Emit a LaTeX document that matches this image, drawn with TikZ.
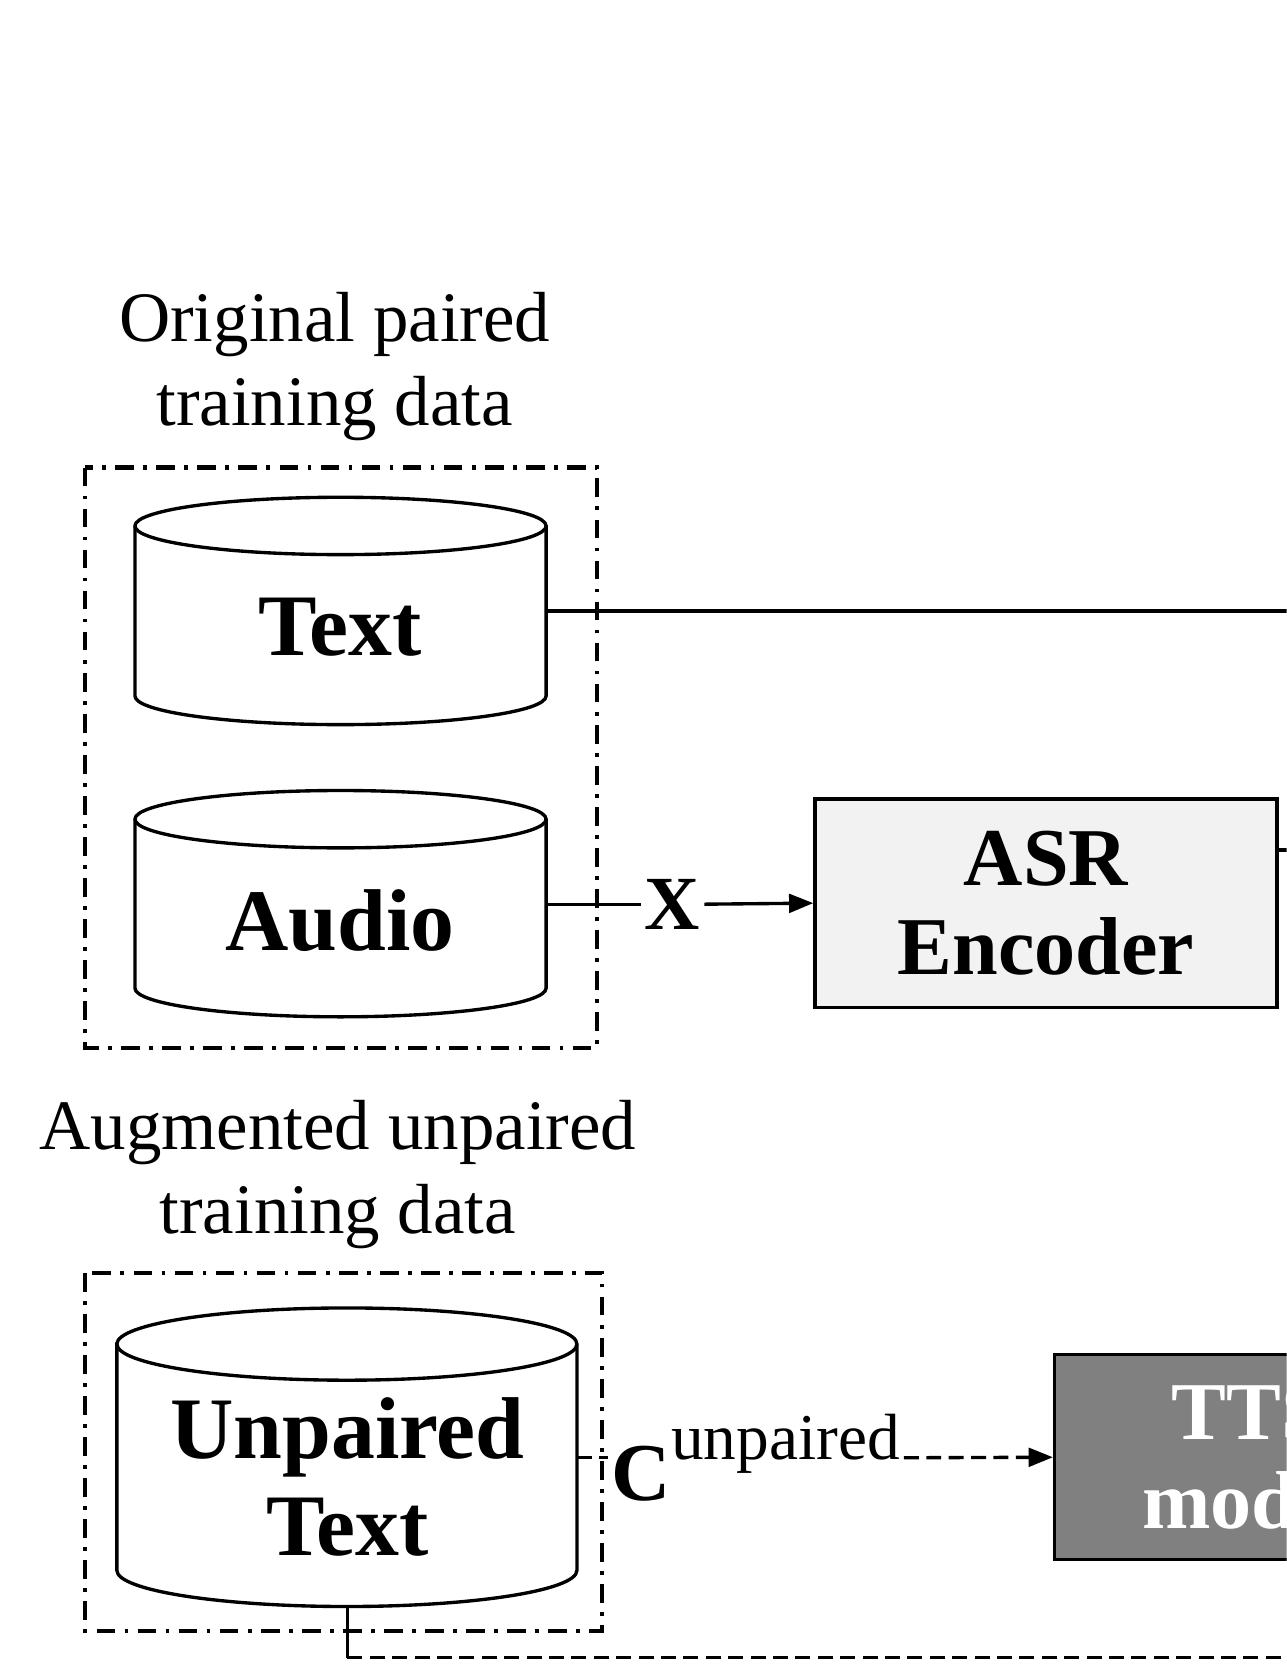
\documentclass[tikz,border=0pt]{standalone}
\usepackage{fontspec}
\setmainfont{Liberation Serif}
\usetikzlibrary{arrows.meta}
\begin{document}
\begin{tikzpicture}[x=0.02cm,y=-0.02cm,
  lbl/.style={font=\fontsize{38}{45}\selectfont,align=center,inner sep=0},
  big/.style={font=\fontsize{47}{50}\selectfont\bfseries,align=center,inner sep=0},
  grp/.style={line width=2.2pt,dash pattern=on 10pt off 5pt on 2pt off 5pt},
  ln/.style={line width=1.8pt},
  arr/.style={ln,-{Triangle[length=13pt,width=10pt]}},
  dsh/.style={ln,dash pattern=on 8pt off 4pt}]
\useasboundingbox (0,0) rectangle (1211,1568);
\clip (0,0) rectangle (1211,1568);
% group labels
\node[lbl] (l1) at (315,345) {Original paired\\training data};
\node[lbl] (l2) at (318,1105) {Augmented unpaired\\training data};
\draw[grp] (80,440) rectangle (562,986);
\draw[grp] (80,1198) rectangle (567,1535);
% cylinders
\draw[ln,fill=white] (127,495) -- (127,655) arc[start angle=180,end angle=0,x radius=193.5,y radius=27] -- (514,495) arc[start angle=0,end angle=-180,x radius=193.5,y radius=27] -- cycle;
\draw[ln] (127,495) arc[start angle=180,end angle=0,x radius=193.5,y radius=27];
\draw[ln,fill=white] (127,771) -- (127,930) arc[start angle=180,end angle=0,x radius=193.5,y radius=27] -- (514,771) arc[start angle=0,end angle=-180,x radius=193.5,y radius=27] -- cycle;
\draw[ln] (127,771) arc[start angle=180,end angle=0,x radius=193.5,y radius=27];
\draw[ln,fill=white] (110,1265) -- (110,1478) arc[start angle=180,end angle=0,x radius=216.5,y radius=34] -- (543,1265) arc[start angle=0,end angle=-180,x radius=216.5,y radius=34] -- cycle;
\draw[ln] (110,1265) arc[start angle=180,end angle=0,x radius=216.5,y radius=34];
\node[big] (text) at (320,590) {Text};
\node[big] (audio) at (320,866) {Audio};
\node[big,font=\fontsize{47}{52}\selectfont\bfseries] (unp) at (327,1390) {Unpaired\\Text};
\coordinate (textR) at (514,575);
\coordinate (audioR) at (514,851);
\coordinate (unpR) at (543,1372);
\coordinate (unpB) at (327,1512);
% boxes
\node[draw,ln,fill=black!5,minimum width=8.7cm,minimum height=3.92cm,inner sep=0,
  font=\fontsize{44}{48}\selectfont\bfseries,align=center] (asr) at (984.5,850) {ASR\\Encoder};
\node[draw,ln,fill=black!50,minimum width=7.34cm,minimum height=3.86cm,inner sep=0,
  text=white,font=\fontsize{44}{48}\selectfont\bfseries,align=center] (tts) at (1176,1371.5) {TTS\\model};
% connectors
\draw[ln] (textR) -- (1215,575);
\draw[ln] (1202,800) -- (1215,800);
\node[inner sep=2pt,font=\fontsize{41}{41}\selectfont\bfseries] (X) at (633,851) {X};
\draw[ln] (audioR) -- (X.west);
\draw[arr] (X.east) -- (asr.west);
\node[inner sep=2pt,anchor=west] (C) at (572,1372) {\fontsize{44}{44}\selectfont\bfseries C\raisebox{0.5em}{\mdseries\fontsize{35}{35}\selectfont unpaired}};
\draw[dsh] (unpR) -- (C.west);
\draw[dsh,-{Triangle[length=13pt,width=10pt]}] (C.east) -- (tts.west);
\draw[ln] (unpB) -- (327,1560);
\draw[dsh] (327,1560) -- (1215,1560);
\end{tikzpicture}
\end{document}
